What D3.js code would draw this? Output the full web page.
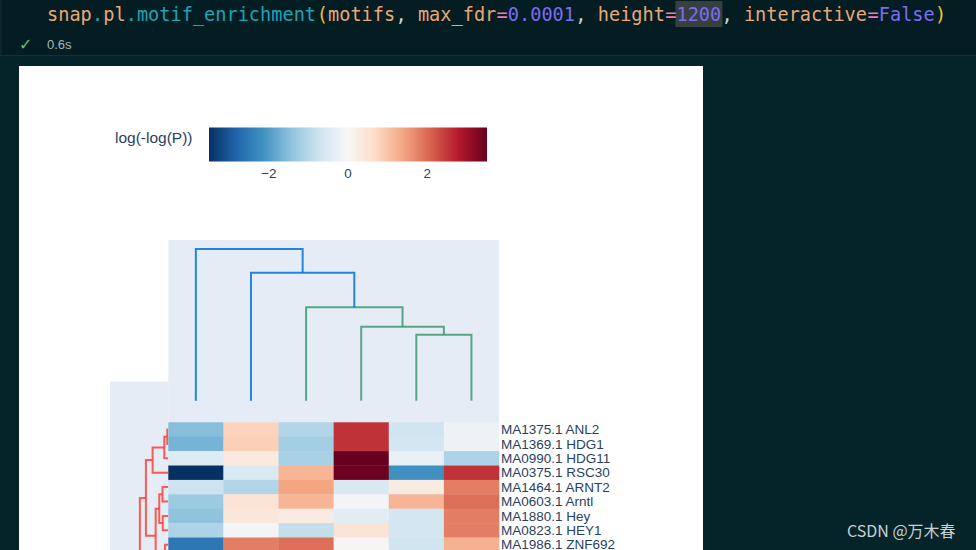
<!DOCTYPE html>
<html>
<head>
<meta charset="utf-8">
<script src="https://cdn.jsdelivr.net/npm/d3@7"></script>
<style>
  html, body { margin: 0; padding: 0; background: #031d22; overflow: hidden; }
  svg { display: block; }
</style>
</head>
<body>
<div id="chart"></div>
<script>
// motif enrichment heatmap with dendrograms (plotly look)

const motifs = ['MA1375.1 ANL2', 'MA1369.1 HDG1', 'MA0990.1 HDG11', 'MA0375.1 RSC30', 'MA1464.1 ARNT2',
    'MA0603.1 Arntl', 'MA1880.1 Hey', 'MA0823.1 HEY1', 'MA1986.1 ZNF692'];
const columns = ['C1', 'C2', 'C3', 'C4', 'C5', 'C6'];

// log(-log(P)) per motif, one value per column
const ANL2 = [-1.5, 0.8, -1.05, 2.55, -0.7, -0.2];
const HDG1 = [-1.65, 0.85, -1.2, 2.55, -0.65, -0.2];
const HDG11 = [-0.45, 0.35, -1.15, 3.51, -0.25, -1.1];
const RSC30 = [-3.51, -0.55, 1.2, 3.45, -2.15, 2.55];
const ARNT2 = [-0.75, -1.05, 1.4, -0.55, 0.3, 1.8];
const Arntl = [-1.3, 0.5, 1.2, -0.1, 1.2, 1.95];
const Hey = [-1.42, 0.4, 0.3, -0.4, -0.65, 1.8];
const HEY1 = [-1.1, -0.1, -0.85, 0.5, -0.65, 1.8];
const ZNF692 = [-2.55, 1.8, 1.95, 0.05, -0.7, 1.25];
const values = [ANL2, HDG1, HDG11, RSC30, ARNT2, Arntl, Hey, HEY1, ZNF692];

const colorTicks = [-2, 0, 2];

// dendrogram links, scipy style: leaf positions (icoord) and heights (dcoord)
const topIcoord = [[4, 4, 5, 5], [3, 3, 4.5, 4.5], [2, 2, 3.75, 3.75], [1, 1, 2.875, 2.875], [0, 0, 1.9375, 1.9375]];
const topDcoord = [[0, 0.435, 0.435, 0], [0, 0.488, 0.488, 0.435], [0, 0.616, 0.616, 0.488], [0, 0.844, 0.844, 0.616], [0, 1, 1, 0.844]];
const topGroup = ['g', 'g', 'g', 'b', 'b'];

const leftIcoord = [[0, 0, 1, 1], [0.5, 0.5, 2, 2], [1.25, 1.25, 3, 3], [4, 4, 5, 5], [6, 6, 7, 7],
    [4.5, 4.5, 6.5, 6.5], [8, 8, 10.5, 10.5], [5.5, 5.5, 9.25, 9.25], [2.125, 2.125, 7.375, 7.375], [4.75, 4.75, 14, 14]];
const leftDcoord = [[0, 0.017, 0.017, 0], [0.017, 0.069, 0.069, 0], [0.069, 0.269, 0.269, 0], [0, 0.1, 0.1, 0], [0, 0.095, 0.095, 0],
    [0.1, 0.155, 0.155, 0.095], [0, 0.057, 0.057, 0.03], [0.155, 0.217, 0.217, 0.057], [0.269, 0.384, 0.384, 0.217], [0.384, 0.488, 0.488, 0.45]];

const rdbu = ['#053061', '#2166ac', '#4393c3', '#92c5de', '#d1e5f0', '#f7f7f7', '#fddbc7', '#f4a582', '#d6604d', '#b2182b', '#67001f'];
const zMin = -3.51, zMax = 3.51;

const W = 976, H = 550;
const svg = d3.select('#chart').append('svg').attr('width', W).attr('height', H);

// ---- notebook chrome ----
svg.append('rect').attr('width', W).attr('height', 56).attr('fill', '#031d22');
svg.append('rect').attr('y', 56).attr('width', W).attr('height', H - 56).attr('fill', '#05242a');
svg.append('line').attr('x1', 0).attr('x2', W).attr('y1', 55.5).attr('y2', 55.5).attr('stroke', '#0f3037');
svg.append('line').attr('x1', 1).attr('x2', 1).attr('y1', 0).attr('y2', 55).attr('stroke', '#0f3037');

const orange = '#e9a877', teal = '#1fa3b5', gold = '#f2c12e', pink = '#ee7cae', purple = '#7c6cf2', gray = '#cfd6d6';
const codeTokens = [['snap', orange], ['.', teal], ['pl', orange], ['.', teal], ['motif_enrichment', teal], ['(', gold],
    ['motifs', orange], [', ', gray], ['max_fdr', orange], ['=', pink], ['0.0001', purple], [', ', gray],
    ['height', orange], ['=', pink], ['1200', purple], [', ', gray], ['interactive', orange], ['=', pink],
    ['False', purple], [')', gold]];
const charW = 11.24, codeX = 47;
let pos = 0;
const codeRuns = codeTokens.map(([t, c]) => { const r = { t, c, i: pos }; pos += t.length; return r; });
const hl = codeRuns.find(r => r.t === '1200');
svg.append('rect').attr('x', codeX + hl.i * charW - 1).attr('y', 1).attr('width', hl.t.length * charW + 2).attr('height', 26).attr('fill', '#35403f');
svg.append('text').attr('y', 20.5).style('font-family', '"DejaVu Sans Mono", monospace').style('font-size', '18.6px')
    .selectAll('tspan').data(codeRuns).enter().append('tspan')
    .attr('x', d => codeX + d.i * charW).attr('fill', d => d.c).text(d => d.t);

svg.append('text').attr('x', 19).attr('y', 49.5).style('font-family', '"DejaVu Sans", sans-serif').style('font-size', '16px').attr('fill', '#6fbf73').text('✓');
svg.append('text').attr('x', 47).attr('y', 48.5).style('font-family', '"Liberation Sans", Arial, sans-serif').style('font-size', '13px').attr('fill', '#a9b8b8').text('0.6s');

svg.append('text').attr('x', 847).attr('y', 537).style('font-family', '"Noto Sans CJK SC", sans-serif').style('font-size', '16px')
    .attr('fill', '#c9d1d1').text('CSDN @万木春');

// ---- figure ----
svg.append('rect').attr('x', 19).attr('y', 66).attr('width', 684).attr('height', H - 66).attr('fill', '#fff');

const font = '"Liberation Sans", Arial, sans-serif';
const ink = '#2a3f5f';
const panel = '#E5ECF6';

const rowH = 14.4, heatTop = 422.3;
const x = d3.scaleBand().domain(columns).range([168.3, 499]);
const y = d3.scaleBand().domain(motifs).range([heatTop, heatTop + rowH * motifs.length]);
const colorScale = d3.scaleLinear().domain(rdbu.map((c, i) => zMin + (zMax - zMin) * i / (rdbu.length - 1))).range(rdbu);

// panel backgrounds
svg.append('rect').attr('x', 168.3).attr('y', 240).attr('width', 499 - 168.3).attr('height', H - 240).attr('fill', panel);
svg.append('rect').attr('x', 110).attr('y', 381.5).attr('width', 58.3).attr('height', H - 381.5).attr('fill', panel);

// heatmap
const cells = values.flatMap((row, r) => row.map((v, c) => ({ motif: motifs[r], col: columns[c], v })));
svg.append('g').selectAll('rect').data(cells).enter().append('rect')
    .attr('x', d => x(d.col)).attr('y', d => y(d.motif))
    .attr('width', x.bandwidth() + 0.3).attr('height', y.bandwidth() + 0.3)
    .attr('fill', d => colorScale(d.v));

svg.append('g').selectAll('text').data(motifs).enter().append('text')
    .attr('x', 501).attr('y', d => y(d) + y.bandwidth() / 2 + 4.7)
    .style('font-family', font).style('font-size', '13.5px').attr('fill', ink).text(d => d);

// top dendrogram
const xLeaf = d3.scaleLinear().domain([0, columns.length - 1]).range([x(columns[0]) + x.bandwidth() / 2, x(columns[columns.length - 1]) + x.bandwidth() / 2]);
const yDist = d3.scaleLinear().domain([0, 1]).range([400.7, 249]);
const topLine = d3.line().x(d => xLeaf(d[0])).y(d => yDist(d[1]));
svg.append('g').selectAll('path').data(topIcoord.map((ic, k) => ({ pts: ic.map((p, j) => [p, topDcoord[k][j]]), g: topGroup[k] })))
    .enter().append('path')
    .attr('d', d => topLine(d.pts)).attr('fill', 'none')
    .attr('stroke', d => d.g === 'b' ? 'rgb(0,116,217)' : 'rgb(61,153,112)')
    .attr('stroke-width', 2).attr('stroke-opacity', 0.85);

// left dendrogram
svg.append('clipPath').attr('id', 'leftClip').append('rect').attr('x', 110).attr('y', 381.5).attr('width', 58.3).attr('height', H);
const yLeaf = d3.scaleLinear().domain([0, motifs.length - 1]).range([y(motifs[0]) + rowH / 2, y(motifs[motifs.length - 1]) + rowH / 2]);
const xDist = d3.scaleLinear().domain([0, 1]).range([168.3, 110]);
const leftLine = d3.line().x(d => xDist(d[1])).y(d => yLeaf(d[0]));
svg.append('g').attr('clip-path', 'url(#leftClip)').selectAll('path')
    .data(leftIcoord.map((ic, k) => ic.map((p, j) => [p, leftDcoord[k][j]])))
    .enter().append('path')
    .attr('d', leftLine).attr('fill', 'none')
    .attr('stroke', 'rgb(255,65,54)').attr('stroke-width', 2).attr('stroke-opacity', 0.85);

// colorbar
const cbX = d3.scaleLinear().domain([zMin, zMax]).range([209, 487]);
const grad = svg.append('defs').append('linearGradient').attr('id', 'cbGrad');
grad.selectAll('stop').data(rdbu).enter().append('stop')
    .attr('offset', (d, i) => `${100 * i / (rdbu.length - 1)}%`).attr('stop-color', d => d);
svg.append('rect').attr('x', cbX(zMin)).attr('y', 127.5).attr('width', cbX(zMax) - cbX(zMin)).attr('height', 34).attr('fill', 'url(#cbGrad)');
svg.append('g').selectAll('text').data(colorTicks).enter().append('text')
    .attr('x', d => cbX(d)).attr('y', 178).attr('text-anchor', 'middle')
    .style('font-family', font).style('font-size', '13.4px').attr('fill', ink)
    .text(d => d < 0 ? `\u2212${Math.abs(d)}` : d);
svg.append('text').attr('x', 115).attr('y', 142.5)
    .style('font-family', font).style('font-size', '15.5px').attr('fill', ink).text('log(-log(P))');
</script>
</body>
</html>
